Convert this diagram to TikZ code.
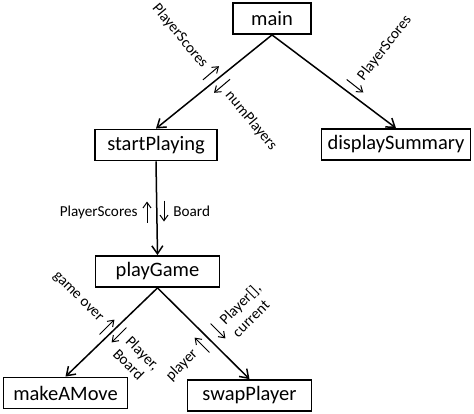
\documentclass[tikz,border=0pt]{standalone}
\usepackage{fontspec}
\setmainfont{Carlito}
\usetikzlibrary{arrows.meta}

\begin{document}
\begin{tikzpicture}[x=0.5pt, y=-0.5pt,
    fn/.style={rectangle, draw=black, line width=0.9pt, minimum width=62pt,
               minimum height=15.5pt, inner xsep=3pt,
               font=\fontsize{10.25}{12}\selectfont},
    call/.style={-{Straight Barb[length=4pt, width=5.5pt]}, line width=0.75pt},
    flow/.style={-{Straight Barb[length=2.8pt, width=4pt]}, line width=0.5pt},
    lbl/.style={inner sep=0pt, align=left, font=\fontsize{7.6}{9}\selectfont}]

    \useasboundingbox (0,0) rectangle (474,413);

    % call tree
    \node[fn, minimum width=39pt] (main) at (272,18.5) {main};
    \node[fn, minimum width=61pt] (start) at (156,145) {startPlaying};
    \node[fn] (summary) at (396,144.5) {displaySummary};
    \node[fn] (play) at (157.5,271.5) {playGame};
    \node[fn] (move) at (65.5,393) {makeAMove};
    \node[fn] (swap) at (249.5,395.5) {swapPlayer};

    \draw[call] (main.south) -- (start.north);
    \draw[call] (main.south) -- (summary.north);
    \draw[call] (start.south) -- (play.north);
    \draw[call] (play.south) -- (move.north);
    \draw[call] (play.south) -- (swap.north);

    % main <-> startPlaying
    \node[lbl, rotate=-50, anchor=east] (ps1) at (205.2,66.1) {PlayerScores};
    \draw[flow] (203.0,79.8) -- (219.0,66.2);
    \node[lbl, rotate=-50, anchor=west] (np) at (227.8,92.9) {numPlayers};
    \draw[flow] (230.0,79.3) -- (214.0,92.8);

    % main <-> displaySummary
    \node[lbl, rotate=52, anchor=west] (ps2) at (360.5,78.9) {PlayerScores};
    \draw[flow] (346.7,79.5) -- (363.3,92.5);

    % startPlaying <-> playGame
    \node[lbl, anchor=east] (ps3) at (138,212) {PlayerScores};
    \draw[flow] (147,222.5) -- (147,201.5);
    \node[lbl, anchor=west] (bd) at (173,211) {Board};
    \draw[flow] (164,200.5) -- (164,221.5);

    % playGame <-> makeAMove
    \node[lbl, rotate=-45, anchor=east] (go) at (100.6,320.6) {game over};
    \draw[flow] (99.6,334.4) -- (114.4,319.6);
    \node[lbl, rotate=-45, anchor=north west] (pb) at (132.4,334.3) {Player,\\Board};
    \draw[flow] (126.4,327.6) -- (111.6,342.4);

    % playGame <-> swapPlayer
    \node[lbl, rotate=45, anchor=north west] (pc) at (217.3,317.6) {Player[],\\current};
    \draw[flow] (210.6,323.6) -- (225.4,338.4);
    \node[lbl, rotate=45, anchor=east] (pl) at (195.6,351.4) {player};
    \draw[flow] (209.4,352.4) -- (194.6,337.6);
\end{tikzpicture}
\end{document}
